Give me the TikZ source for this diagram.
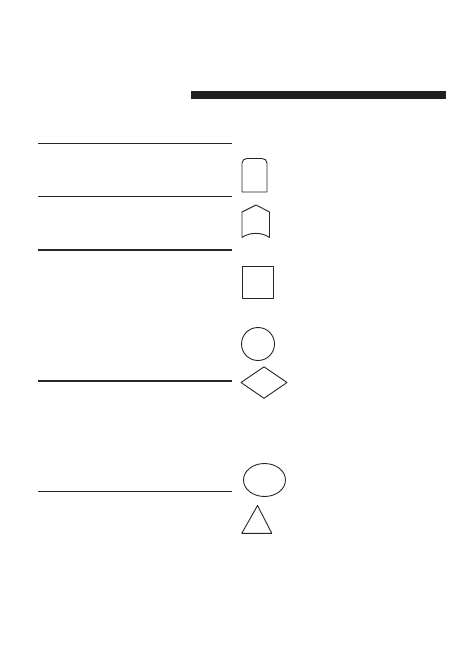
\documentclass[tikz,border=0pt]{standalone}
\begin{document}
\begin{tikzpicture}[x=1pt,y=-1pt,
  rule/.style={line width=1.3pt,draw=black!85},
  shp/.style={line width=0.9pt,draw=black!85,line join=round}]
\useasboundingbox (0,0) rectangle (474,671);
% thick bar
\fill[black!88] (191,91) rectangle (446,99);
% rules
\foreach \y in {143.7,196.7,250,381,491.7}
  \draw[rule] (38,\y) -- (231.7,\y);
% rounded-top rectangle
\draw[shp] (242,192) -- (242,163) to[out=90,in=180] (247,158.5) -- (262,158.5) to[out=0,in=90] (267,163) -- (267,192) -- cycle;
% pentagon with curved bottom
\draw[shp] (242,237.5) -- (242,212) -- (256,205) -- (269.5,212) -- (269.5,237.5)
  .. controls (262,232) and (249.5,232) .. (242,237.5);
% square
\draw[shp] (242.3,266) rectangle (273.3,298.3);
% circle
\draw[shp] (258,344) circle (16.5);
% diamond
\draw[shp] (241,382.5) -- (264,366.8) -- (287,382.5) -- (264,398.3) -- cycle;
% ellipse
\draw[shp] (264.5,480) ellipse (21 and 16.5);
% triangle
\draw[shp] (257.5,505.5) -- (271.8,533.3) -- (241.8,533.3) -- cycle;
\end{tikzpicture}
\end{document}
